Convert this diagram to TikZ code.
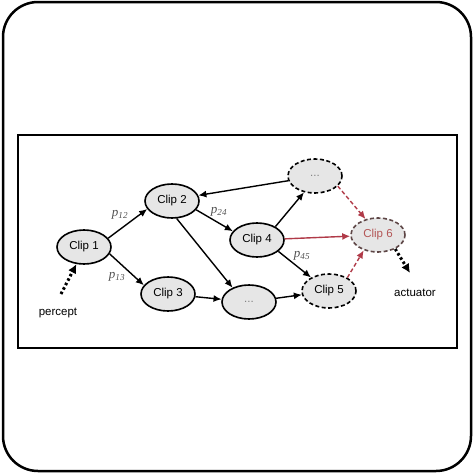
\documentclass[tikz,border=0pt]{standalone}
\usepackage{fontspec}
\setmainfont{Liberation Sans}
\newfontfamily\serfont{Liberation Serif}
\usetikzlibrary{arrows.meta,shapes.geometric}
\definecolor{nodefill}{HTML}{E6E6E6}
\definecolor{redline}{HTML}{B03A48}
\definecolor{redtext}{HTML}{B35555}
\definecolor{sixline}{HTML}{5E4646}
\definecolor{lblgray}{HTML}{505050}
\tikzset{
  clip/.style={ellipse, draw=black, fill=nodefill, line width=1.6pt, minimum width=54pt, minimum height=34pt, inner sep=0pt, font=\fontsize{11.5}{13}\selectfont},
  dashclip/.style={clip, dash pattern=on 4pt off 2.5pt},
  edge/.style={line width=1.4pt, -{Latex[length=8pt,width=7pt]}},
  rededge/.style={edge, draw=redline},
  dotarrow/.style={line width=3pt, dash pattern=on 2.5pt off 2.5pt, -{Latex[length=9pt,width=9pt]}},
  plabel/.style={text=lblgray, font=\serfont\itshape\fontsize{13}{15}\selectfont},
  plaintext/.style={font=\fontsize{11.5}{13}\selectfont}
}
\begin{document}
\begin{tikzpicture}[x=1pt,y=-1pt]
\useasboundingbox (0,0) rectangle (474,474);
\draw[line width=2.5pt, rounded corners=35pt] (3,2) rectangle (471,471);
\draw[line width=2pt] (18,135) rectangle (457,348);

\node[clip] (c1) at (84,247) {Clip 1};
\node[clip] (c2) at (172,201) {Clip 2};
\node[clip] (c3) at (168,294) {Clip 3};
\node[clip] (c4) at (257,240) {Clip 4};
\node[clip] (d2) at (249,302) {\textcolor{gray}{...}};
\node[dashclip] (td) at (315,176) {\textcolor{gray}{...}};
\node[dashclip] (c5) at (329,291) {Clip 5};
\node[dashclip, draw=sixline, text=redtext] (c6) at (378,235) {Clip 6};

\node[plaintext] (pc) at (58,313) {percept};
\node[plaintext] (ac) at (415,293) {actuator};
\coordinate (ps) at (61,294);
\coordinate (ae) at (410,273);

\draw[dotarrow] (ps) -- (c1.246);
\draw[dotarrow] (c6.-39) -- (ae);

\draw[edge] (c1.20) -- (c2.198);
\draw[edge] (c1.-15) -- (c3.160);
\draw[edge] (c2.-20) -- (c4.160);
\draw[edge] (c2.-75) -- (d2.139);
\draw[edge] (td.190) -- (c2.12);
\draw[edge] (c3) -- (d2);
\draw[edge] (c4.36) -- (td.236);
\draw[edge] (c4.-28) -- (c5.143);
\draw[edge] (d2) -- (c5);
\draw[rededge] (c4) -- (c6);
\draw[rededge, dash pattern=on 4pt off 2.5pt] (td.-24) -- (c6.128);
\draw[rededge, dash pattern=on 4pt off 2.5pt] (c5.36) -- (c6.227);

\node[plabel] (p12) at (120,215) {p\textsubscript{12}};
\node[plabel] (p13) at (117,277) {p\textsubscript{13}};
\node[plabel] (p24) at (219,212) {p\textsubscript{24}};
\node[plabel] (p45) at (302,256) {p\textsubscript{45}};
\end{tikzpicture}
\end{document}
